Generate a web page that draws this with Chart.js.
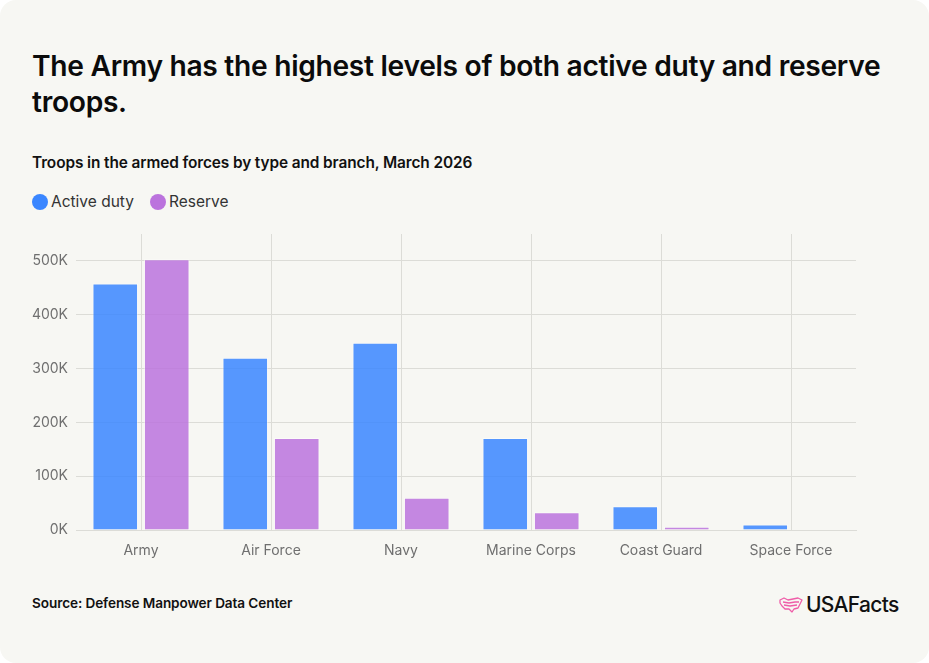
<!DOCTYPE html>
<html>
<head>
<meta charset="utf-8">
<script src="https://cdn.jsdelivr.net/npm/chart.js@4.4.1/dist/chart.umd.min.js"></script>
<style>
  html, body { margin: 0; padding: 0; background: #ffffff; }
  body { width: 929px; height: 663px; position: relative; overflow: hidden; font-family: Inter, "Noto Sans", sans-serif; }
  #card { position: absolute; left: 0; top: 0; width: 929px; height: 663px; background: #f7f7f3; border-radius: 16px; }
  #title { position: absolute; left: 32px; top: 48px; width: 890px; font-size: 28.2px; line-height: 36px; font-weight: 600; color: #0b0b0b; letter-spacing: -0.3px; }
  #subtitle { position: absolute; left: 32px; top: 153px; font-size: 15.4px; font-weight: 600; color: #111; letter-spacing: -0.1px; }
  #legend { position: absolute; left: 32px; top: 192px; display: flex; align-items: center; font-size: 15.5px; color: #333; }
  .li { display: flex; align-items: center; margin-right: 16px; }
  .dot { width: 16px; height: 16px; border-radius: 50%; margin-right: 3px; }
  #source { position: absolute; left: 32px; top: 595px; font-size: 13.6px; font-weight: 600; color: #111; letter-spacing: -0.1px; }
  #logo { position: absolute; left: 779px; top: 592px; display: flex; align-items: center; }
  #logo span { font-size: 21px; font-weight: 500; color: #111; letter-spacing: -0.7px; margin-left: 3px; }
  canvas { position: absolute; left: 0; top: 0; }
</style>
</head>
<body>
<div id="card"></div>
<div id="title">The Army has the highest levels of both active duty and reserve<br>troops.</div>
<div id="subtitle">Troops in the armed forces by type and branch, March 2026</div>
<div id="legend"></div>
<div id="source">Source: Defense Manpower Data Center</div>
<div id="logo">
  <svg width="24" height="18" viewBox="0 0 24 18"><path d="M1 4 L5 2 L9 4 L14 3 L19 2 L23 4 L21 8 L19 12 L15 13 L13 16 L10 13 L6 13 L3 10 L1 7 Z M4 6 L10 7 L16 6 L20 6 M5 9 L11 10 L18 9" fill="none" stroke="#ef5da8" stroke-width="1.3" stroke-linejoin="round"/></svg>
  <span>USAFacts</span>
</div>
<canvas id="c" width="929" height="663"></canvas>
<script>
const categories = ["Army", "Air Force", "Navy", "Marine Corps", "Coast Guard", "Space Force"];
const activeDuty = [458000, 320000, 348000, 171000, 44000, 10000];
const reserve = [503000, 171000, 60000, 33000, 6000, 0];
const seriesNames = ["Active duty", "Reserve"];
const yTicks = [0, 100000, 200000, 300000, 400000, 500000];
const yMax = 550000;

const colors = ["rgba(58,134,255,0.85)", "rgba(187,115,221,0.85)"];
const legendColors = ["#3a86ff", "#bb73dd"];

const lg = document.getElementById('legend');
seriesNames.forEach((n, i) => {
  const d = document.createElement('div'); d.className = 'li';
  d.innerHTML = '<div class="dot" style="background:' + legendColors[i] + '"></div>' + n;
  lg.appendChild(d);
});

const tickFont = { family: "Inter, 'Noto Sans', sans-serif", size: 14 };

new Chart(document.getElementById('c'), {
  type: 'bar',
  data: {
    labels: categories,
    datasets: [
      { label: seriesNames[0], data: activeDuty, backgroundColor: colors[0], borderColor: "rgba(255,255,255,0.45)", borderWidth: {top:1,left:1,right:1,bottom:0}, barPercentage: 0.885, categoryPercentage: 0.792 },
      { label: seriesNames[1], data: reserve, backgroundColor: colors[1], borderColor: "rgba(255,255,255,0.45)", borderWidth: {top:1,left:1,right:1,bottom:0}, barPercentage: 0.885, categoryPercentage: 0.792 }
    ]
  },
  options: {
    responsive: false,
    animation: false,
    layout: { padding: { top: 234, left: 0, right: 73, bottom: 93 } },
    plugins: { legend: { display: false }, tooltip: { enabled: false }, title: { display: false } },
    scales: {
      x: {
        grid: { offset: false, color: "#dcdcd7", drawTicks: false },
        border: { display: true, color: "#dcdcd7" },
        ticks: { color: "#6f6f6f", font: tickFont, padding: 12 },
        afterFit: (s) => { s.height = 40; }
      },
      y: {
        min: 0, max: yMax,
        grid: { color: "#dcdcd7", drawTicks: false },
        border: { display: false },
        afterBuildTicks: (s) => { s.ticks = yTicks.map(v => ({ value: v })); },
        ticks: { color: "#6f6f6f", font: tickFont, padding: 8,
          callback: (v) => (v / 1000) + "K" },
        afterFit: (s) => { s.width = 76; }
      }
    }
  }
});
</script>
</body>
</html>
